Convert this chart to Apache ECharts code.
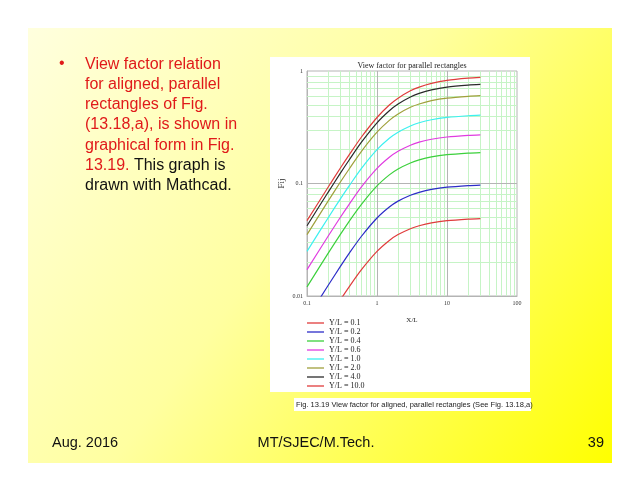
<!DOCTYPE html>
<html><head><meta charset="utf-8">
<script src="https://cdn.jsdelivr.net/npm/echarts@6/dist/echarts.min.js"></script>
<style>html,body{margin:0;padding:0;background:#fff}#c{width:638px;height:493px}</style>
</head><body><div id="c"></div>
<script>
// X/L sample points
const xValues = [0.1,0.2,0.3,0.4,0.6,1,1.5,2,3,4,6,10,20,30];
// Fij for each Y/L
const fYL01 = [0.00314,0.00624,0.00925,0.01207,0.01715,0.02492,0.03119,0.03514,0.03965,0.04209,0.04463,0.04671,0.04829,0.04882];
const fYL02 = [0.00626,0.01240,0.01831,0.02391,0.03397,0.04939,0.06184,0.06969,0.07866,0.08351,0.08856,0.09270,0.09584,0.09689];
const fYL04 = [0.01207,0.02391,0.03527,0.04614,0.06531,0.09515,0.11934,0.13465,0.15216,0.16200,0.17220,0.18030,0.18637,0.18844];
const fYL06 = [0.01715,0.03397,0.05013,0.06531,0.09336,0.13627,0.17122,0.19341,0.21888,0.23299,0.24738,0.25909,0.26798,0.27097];
const fYL10 = [0.02492,0.04939,0.07295,0.09515,0.13627,0.19982,0.25232,0.28588,0.32474,0.34643,0.36857,0.38630,0.40033,0.40494];
const fYL20 = [0.03514,0.06969,0.10306,0.13465,0.19341,0.28588,0.36404,0.41525,0.47557,0.50899,0.54464,0.57338,0.59573,0.60313];
const fYL40 = [0.04209,0.08351,0.12359,0.16166,0.23299,0.34643,0.44367,0.50899,0.58761,0.63204,0.67957,0.71960,0.75002,0.76023];
const fYL100 = [0.04671,0.09270,0.13725,0.17965,0.25909,0.38620,0.49804,0.57338,0.66627,0.71960,0.77741,0.82699,0.86565,0.87873];
const seriesNames = ['Y/L = 0.1','Y/L = 0.2','Y/L = 0.4','Y/L = 0.6','Y/L = 1.0','Y/L = 2.0','Y/L = 4.0','Y/L = 10.0'];
const seriesValues = [fYL01,fYL02,fYL04,fYL06,fYL10,fYL20,fYL40,fYL100];
// grid line positions (axis values)
const minorX = [0.2,0.3,0.4,0.5,0.6,0.7,0.8,0.9,2,3,4,5,6,7,8,9,20,30,40,50,60,70,80,90];
const majorX = [1,10];
const minorY = [0.02,0.03,0.04,0.05,0.06,0.07,0.08,0.09,0.2,0.3,0.4,0.5,0.6,0.7,0.8,0.9];
const majorY = [0.1];

const lineColors = ['#e03c3c','#2c2cc8','#3cd03c','#e03ce0','#3cf0f0','#a0a03c','#2a2a2a','#e03c3c'];
const serif = 'Liberation Serif, Times New Roman, serif';
const sans = 'Liberation Sans, Arial, sans-serif';

const chart = echarts.init(document.getElementById('c'));
const curveSeries = seriesNames.map((n, i) => ({
  name: n, type: 'line', smooth: 0.3, symbol: 'none', showSymbol: false,
  data: xValues.map((x, j) => [x, seriesValues[i][j]]),
  lineStyle: { color: lineColors[i], width: 1.2 },
  itemStyle: { color: lineColors[i] },
  z: 5, silent: true, clip: true
}));
const gridSeries = [
  { type: 'line', data: [], silent: true, z: 2,
    markLine: { silent: true, symbol: ['none','none'], label: { show: false }, animation: false,
      lineStyle: { color: '#c6f4c6', width: 1, type: 'solid' },
      data: minorX.map(v => ({ xAxis: v })).concat(minorY.map(v => ({ yAxis: v }))) } },
  { type: 'line', data: [], silent: true, z: 3,
    markLine: { silent: true, symbol: ['none','none'], label: { show: false }, animation: false,
      lineStyle: { color: '#b4b4b4', width: 1, type: 'solid' },
      data: majorX.map(v => ({ xAxis: v })).concat(majorY.map(v => ({ yAxis: v }))) } }
];

chart.setOption({
  animation: false,
  backgroundColor: '#ffffff',
  graphic: [
    { type: 'rect', z: -10, shape: { x: 28, y: 28, width: 584, height: 435 },
      style: { fill: new echarts.graphic.LinearGradient(0, 0, 1, 1, [
        { offset: 0, color: '#ffffde' }, { offset: 0.45, color: '#ffffa0' }, { offset: 1, color: '#ffff00' }]) } },
    { type: 'rect', z: -9, shape: { x: 270, y: 57, width: 260, height: 335 }, style: { fill: '#ffffff' } },
    { type: 'rect', z: -9, shape: { x: 294, y: 398, width: 237, height: 13 }, style: { fill: '#ffffff' } },
    { type: 'text', style: { text: '•', x: 59, y: 64, font: '16px ' + sans, fill: '#e01a1a', textVerticalAlign: 'middle' } },
    { type: 'text', style: { text: 'View factor relation\nfor aligned, parallel\nrectangles of Fig.\n(13.18,a), is shown in\ngraphical form in Fig.',
        x: 85, y: 54, font: '16px ' + sans, fill: '#e01a1a', lineHeight: 20.3 } },
    { type: 'text', style: { text: '{r|13.19.} This graph is\ndrawn with Mathcad.', x: 85, y: 155.5,
        font: '16px ' + sans, fill: '#111111', lineHeight: 20.3,
        rich: { r: { fill: '#e01a1a', font: '16px ' + sans } } } },
    { type: 'text', style: { text: 'Fig. 13.19 View factor for aligned, parallel rectangles (See Fig. 13.18,a)',
        x: 296, y: 404.5, font: '7.5px ' + sans, fill: '#222222', textVerticalAlign: 'middle' } },
    { type: 'text', style: { text: 'Aug. 2016', x: 52, y: 443, font: '14.5px ' + sans, fill: '#111111', textVerticalAlign: 'middle' } },
    { type: 'text', style: { text: 'MT/SJEC/M.Tech.', x: 316, y: 443, font: '14.5px ' + sans, fill: '#111111', textVerticalAlign: 'middle', textAlign: 'center' } },
    { type: 'text', style: { text: '39', x: 604, y: 443, font: '14.5px ' + sans, fill: '#111111', textVerticalAlign: 'middle', textAlign: 'right' } }
  ],
  title: { text: 'View factor for parallel rectangles', left: 412, top: 61.5, padding: 0, textAlign: 'center',
    textStyle: { fontFamily: serif, fontSize: 8, fontWeight: 'normal', color: '#222' } },
  grid: { left: 307, top: 71, width: 210, height: 225, show: true, borderColor: '#b4b4b4', borderWidth: 1, backgroundColor: 'transparent' },
  legend: {
    data: seriesNames, icon: 'rect', orient: 'vertical', left: 307, top: 319, itemWidth: 17, itemHeight: 1.3, itemGap: 1,
    padding: 0, selectedMode: false, textStyle: { fontFamily: serif, fontSize: 8, color: '#222', lineHeight: 8, padding: [0,0,0,0] }
  },
  xAxis: {
    type: 'log', logBase: 10, min: 0.1, max: 100,
    name: 'X/L', nameLocation: 'middle', nameGap: 21, nameTextStyle: { fontFamily: serif, fontSize: 7, color: '#222' },
    axisLine: { show: true, lineStyle: { color: '#b4b4b4' } }, axisTick: { show: false },
    axisLabel: { fontFamily: serif, fontSize: 6, color: '#333', margin: 4 },
    splitLine: { show: false }, minorSplitLine: { show: false }
  },
  yAxis: {
    type: 'log', logBase: 10, min: 0.01, max: 1,
    name: 'Fij', nameLocation: 'middle', nameGap: 21, nameRotate: 90, nameTextStyle: { fontFamily: serif, fontSize: 9, color: '#222' },
    axisLine: { show: true, lineStyle: { color: '#b4b4b4' } }, axisTick: { show: false },
    axisLabel: { fontFamily: serif, fontSize: 6, color: '#333', margin: 4 },
    splitLine: { show: false }, minorSplitLine: { show: false }
  },
  series: gridSeries.concat(curveSeries)
});
</script></body></html>
